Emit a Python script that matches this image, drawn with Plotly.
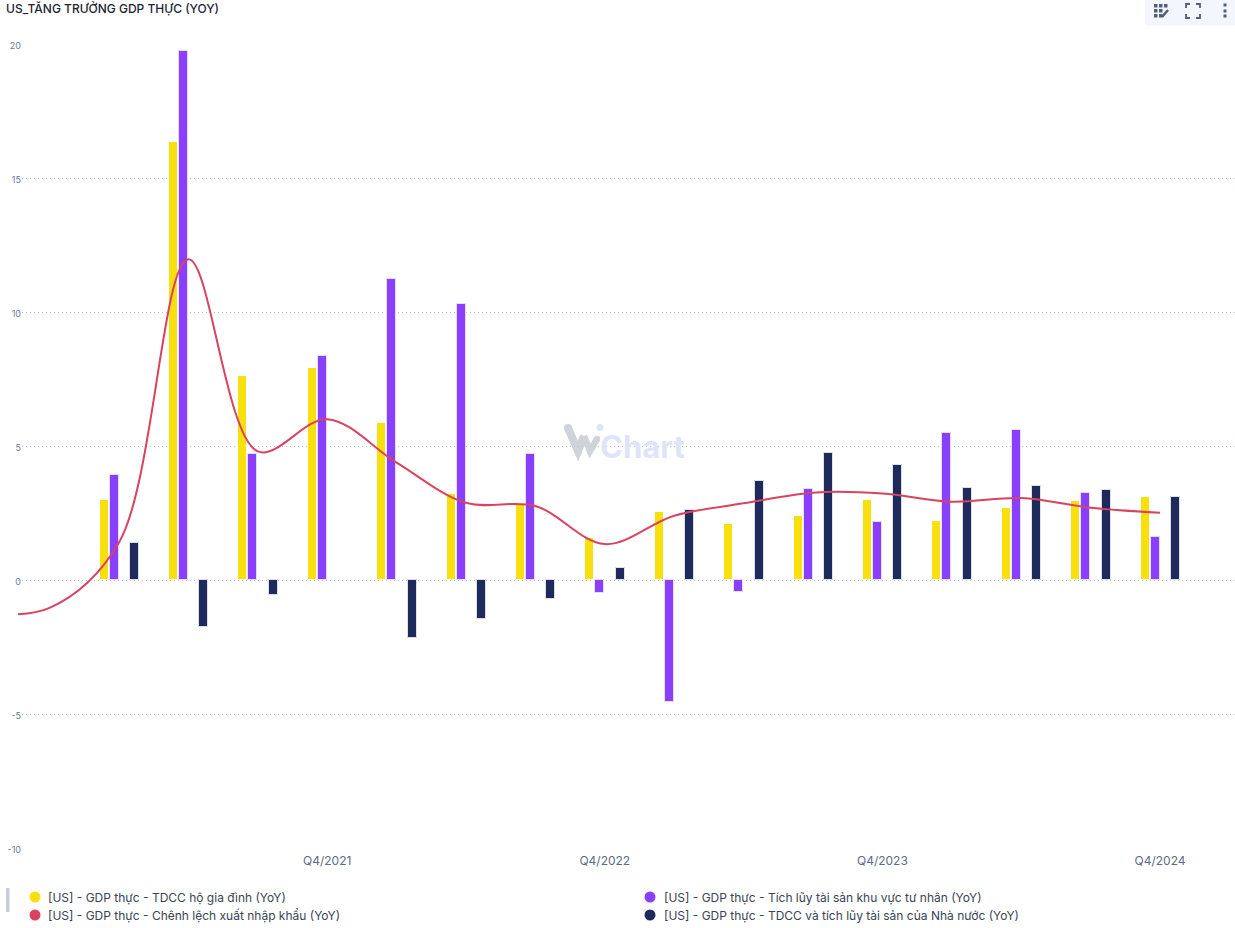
import plotly.graph_objects as go

# Quarterly series, first quarter sits just off the left edge of the plot
quarters = ["Q3/2020", "Q4/2020", "Q1/2021", "Q2/2021", "Q3/2021", "Q4/2021",
            "Q1/2022", "Q2/2022", "Q3/2022", "Q4/2022",
            "Q1/2023", "Q2/2023", "Q3/2023", "Q4/2023",
            "Q1/2024", "Q2/2024", "Q3/2024", "Q4/2024"]
tick_quarters = ["Q4/2021", "Q4/2022", "Q4/2023", "Q4/2024"]

household = [None, None, 3.0, 16.35, 7.6, 7.9, 5.85, 3.2, 2.85, 1.55,
             2.55, 2.1, 2.4, 3.0, 2.2, 2.7, 2.95, 3.1]
private_inv = [None, None, 3.9, 19.75, 4.7, 8.35, 11.25, 10.3, 4.7, -0.5,
               -4.55, -0.45, 3.4, 2.15, 5.5, 5.6, 3.25, 1.6]
net_exports = [-1.25, -1.04, 1.4, 11.97, 4.8, 6.0, 4.38, 2.88, 2.76, 1.34,
               2.4, 2.86, 3.26, 3.23, 2.92, 3.06, 2.7, 2.51]
government = [None, None, 1.38, -1.75, -0.55, None, -2.15, -1.45, -0.7, 0.45,
              2.6, 3.7, 4.75, 4.3, 3.45, 3.5, 3.35, 3.1]

name_household = "[US] - GDP thực - TDCC hộ gia đình (YoY)"
name_private = "[US] - GDP thực - Tích lũy tài sản khu vực tư nhân (YoY)"
name_exports = "[US] - GDP thực - Chênh lệch xuất nhập khẩu (YoY)"
name_government = "[US] - GDP thực - TDCC và tích lũy tài sản của Nhà nước (YoY)"

YELLOW, PURPLE, RED, NAVY = "#f8e00f", "#8a3ffc", "#d9435f", "#1f2a5c"
FONT = "Inter"
W, H = 1235, 928
PLOT_L, PLOT_R, PLOT_T, PLOT_B = 18, 1235, 44, 848

# Pixel helpers for page furniture (toolbar, watermark, scrollbar, legend dots)
def px(x):
    return (x - PLOT_L) / (PLOT_R - PLOT_L)

def py(y):
    return (PLOT_B - y) / (PLOT_B - PLOT_T)

# One category spans 69.4 px; Q4/2024 is centred at x = 1160
STEP = 69.4
last = len(quarters) - 1
x_range = [last + (PLOT_L - 1160) / STEP, last + (PLOT_R - 1160) / STEP]
bar_w = 9 / STEP

fig = go.Figure()

def bars(values, name, color, border, left_px):
    fig.add_bar(x=quarters, y=values, name=name, showlegend=False,
                width=bar_w, offset=left_px / STEP,
                marker=dict(color=color, line=dict(color=border, width=1)))

bars(household, name_household, YELLOW, "#ffffff", -19.5)
bars(private_inv, name_private, PURPLE, "#e6dcfe", -9.5)
bars(government, name_government, NAVY, "#dcdee8", 10.9)

fig.add_scatter(x=quarters, y=net_exports, name=name_exports, mode="lines",
                showlegend=False,
                line=dict(color=RED, width=2, shape="spline", smoothing=1.0))

shapes = []

def rect(x0, y0, x1, y1, color, layer="above"):
    shapes.append(dict(type="rect", xref="paper", yref="paper",
                       x0=px(x0), x1=px(x1), y0=py(y0), y1=py(y1),
                       fillcolor=color, line=dict(width=0), layer=layer))

def dot(cx, cy, r, color, layer="above"):
    shapes.append(dict(type="circle", xref="paper", yref="paper",
                       x0=px(cx - r), x1=px(cx + r), y0=py(cy - r), y1=py(cy + r),
                       fillcolor=color, line=dict(width=0), layer=layer))

def stroke(path_pts, color, width, layer="above"):
    d = "M " + " L ".join(f"{px(a):.5f} {py(b):.5f}" for a, b in path_pts)
    shapes.append(dict(type="path", xref="paper", yref="paper", path=d,
                       line=dict(color=color, width=width), layer=layer))

# Legend: one entry per legend box so the two columns and row pitch can be set;
# the round swatch beside each label is a paper-positioned dot
entries = [(name_household, YELLOW, "legend", 15, 883, 35, 897),
           (name_exports, RED, "legend2", 15, 901, 35, 915),
           (name_private, PURPLE, "legend3", 631, 883, 650, 897),
           (name_government, NAVY, "legend4", 631, 901, 650, 915)]
legends = {}
for nm, col, lg, left, top, cx, cy in entries:
    fig.add_scatter(x=[quarters[0]], y=[None], name=nm, mode="markers", legend=lg,
                    marker=dict(color="rgba(0,0,0,0)", size=11, symbol="circle",
                                line=dict(width=0)))
    legends[lg] = dict(orientation="v", x=px(left), y=py(top), xanchor="left",
                       yanchor="top", indentation=-7,
                       font=dict(family=FONT, size=12, color="#3a4354"),
                       bgcolor="rgba(0,0,0,0)", itemclick=False, itemdoubleclick=False)
    dot(cx, cy, 5.5, col)

# Grid dots stop short of the tick labels
rect(17, 40, 22, 855, "#ffffff", "between")

# Scrollbar beside the legend
rect(6, 888, 9.5, 912, "#c8ced9")

# Toolbar panel and icons
rect(1145, 0, 1235, 25.5, "#f3f6fc")
ICON = "#4f5f7d"
for r in range(3):
    for c in range(3):
        if r >= 1 and c == 2:
            continue
        rect(1154 + c * 5, 4 + r * 5, 1157.5 + c * 5, 7.5 + r * 5, ICON)
stroke([(1162, 17), (1168, 10)], ICON, 2.5)
for cx, cy, dx, dy in [(1186, 4, 1, 1), (1200, 4, -1, 1), (1186, 18, 1, -1), (1200, 18, -1, -1)]:
    stroke([(cx, cy + 4 * dy), (cx, cy), (cx + 4 * dx, cy)], ICON, 1.8)
for cy in (5, 11, 16):
    rect(1223.5, cy - 1.5, 1226.5, cy + 1.5, ICON)

# Watermark
GREY, PALE = "#cfd3da", "#dfe4fb"
stroke([(568, 428), (578, 451), (584, 436)], GREY, 8, "between")
stroke([(584, 436), (590, 451), (597, 439)], GREY, 6.5, "between")
dot(568, 428, 4, GREY, "between")
dot(578, 451, 4, GREY, "between")
dot(590, 451, 3.2, GREY, "between")
dot(597, 439, 3.2, GREY, "between")
dot(600, 427.5, 3.4, PALE, "between")

annotations = [
    dict(text="<b>Chart</b>", xref="paper", yref="paper", x=px(642), y=py(446),
         showarrow=False, xanchor="center", yanchor="middle",
         font=dict(family=FONT, size=31, color=PALE)),
    dict(text="US_TĂNG TRƯỞNG GDP THỰC (YOY)", xref="paper", yref="paper",
         x=px(4), y=py(9), showarrow=False, xanchor="left", yanchor="middle",
         font=dict(family=FONT, size=12, color="#1c2433", weight=500)),
]

fig.update_layout(
    width=W, height=H, autosize=False,
    margin=dict(l=PLOT_L, r=W - PLOT_R, t=PLOT_T, b=H - PLOT_B, pad=0, autoexpand=False),
    paper_bgcolor="white", plot_bgcolor="white",
    font=dict(family=FONT),
    bargap=0, barmode="overlay",
    shapes=shapes, annotations=annotations,
    xaxis=dict(type="category", categoryorder="array", categoryarray=quarters,
               range=x_range, tickmode="array", tickvals=tick_quarters,
               ticktext=tick_quarters, showgrid=False, zeroline=False,
               showline=False, ticks="", ticklabelstandoff=4,
               tickfont=dict(family=FONT, size=12, color="#5c6b8a")),
    yaxis=dict(range=[-10, 20], tickmode="array",
               tickvals=[-10, -5, 0, 5, 10, 15, 20],
               ticktext=["-10", "-5", "0", "5", "10", "15", "20"],
               showgrid=True, gridcolor="#b9c2cc", griddash="1px,3px", gridwidth=1,
               zeroline=False, showline=False, ticks="",
               ticklabelstandoff=-4, ticklabelshift=2,
               tickfont=dict(family=FONT, size=9, color="#6b7a94")),
    **legends,
)

fig.write_html("out.html", config=dict(displayModeBar=False))
